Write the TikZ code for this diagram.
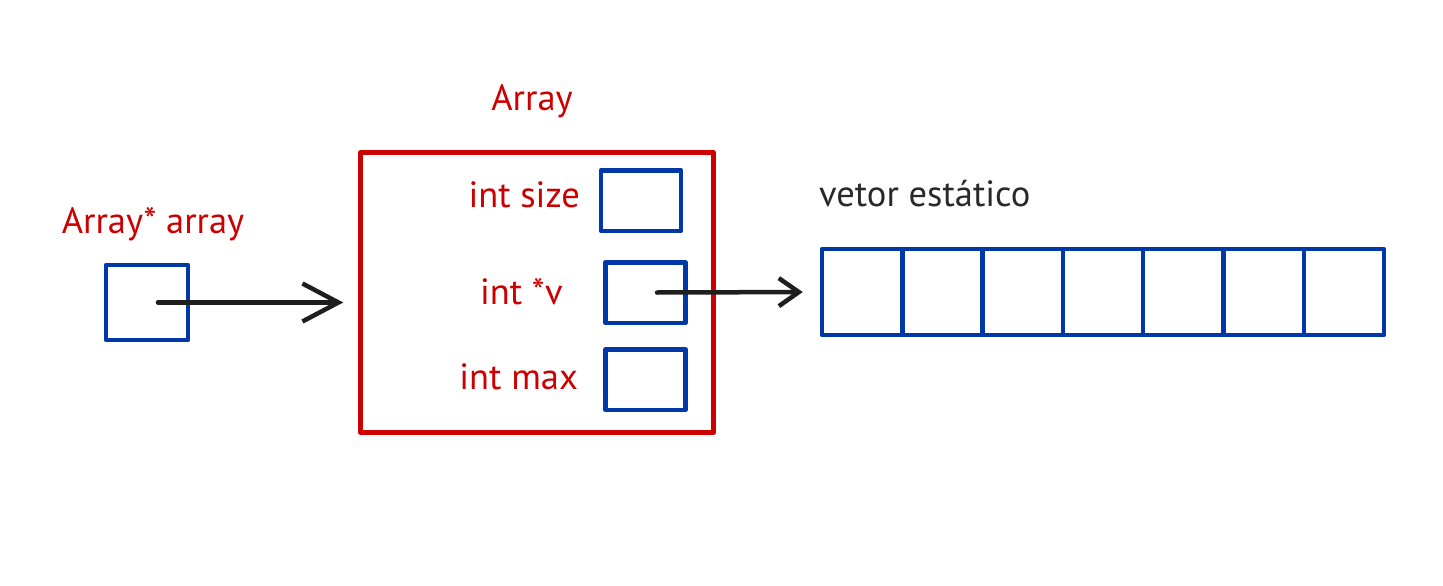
\documentclass[tikz,border=0pt]{standalone}
\usepackage{fontspec}
\setmainfont{PT Sans}
\usetikzlibrary{arrows.meta}
\definecolor{boxblue}{RGB}{0,56,168}
\definecolor{boxred}{RGB}{204,0,0}
\definecolor{ink}{RGB}{30,30,30}
\begin{document}
\begin{tikzpicture}[x=1pt, y=-1pt, line join=round, line cap=round,
    field/.style={draw=boxblue, line width=4.5pt, inner sep=0pt, minimum width=80pt, minimum height=60.5pt},
    lbl/.style={font=\fontsize{36.5}{42}\selectfont, inner sep=0pt},
    ptrarrow/.style={draw=ink, line width=4.5pt, -{Straight Barb[length=20pt, width=28pt]}}]
    \useasboundingbox (0,0) rectangle (1443,586);
    % pointer on the left
    \node[field, minimum width=82pt, minimum height=75pt] (ptr) at (147,302.5) {};
    \node[lbl, text=boxred] (ptrlbl) at (153,224) {Array* array};
    % the struct
    \node[draw=boxred, line width=4.5pt, minimum width=353pt, minimum height=280pt] (arr) at (537,292.5) {};
    \node[lbl, text=boxred] (arrlbl) at (532,101) {Array};
    \node[field] (size) at (641,200.5) {};
    \node[field] (v) at (645.5,292.5) {};
    \node[field] (max) at (645.5,379.5) {};
    \node[lbl, text=boxred, anchor=east] (sizelbl) at (580,195) {int size};
    \node[lbl, text=boxred, anchor=east] (vlbl) at (563,292) {int *v};
    \node[lbl, text=boxred, anchor=east] (maxlbl) at (578,377) {int max};
    % static vector
    \node[lbl, text=ink!95, anchor=west] (veclbl) at (819,194) {vetor estático};
    \foreach \i in {1,...,7}
        \node[field, minimum width=80.3pt, minimum height=86pt] (c\i) at ({822+80.3*(\i-0.5)},292) {};
    % pointers
    \draw[ptrarrow, -{Straight Barb[length=36pt, width=38pt]}] ([xshift=11pt]ptr.center) -- ([xshift=-15pt]ptr.center -| arr.west);
    \draw[ptrarrow, shorten >=17pt] ([xshift=11.5pt]v.center) -- (c1.west);
\end{tikzpicture}
\end{document}
